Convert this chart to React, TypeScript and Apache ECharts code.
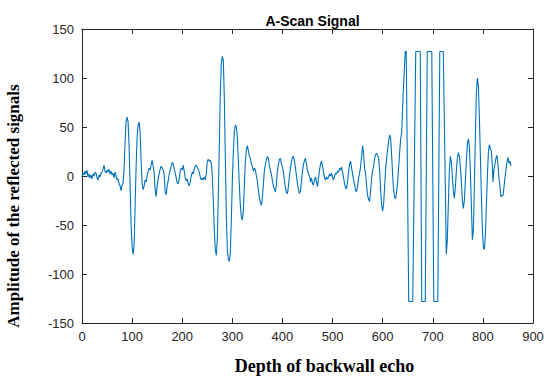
import React, { useEffect, useRef } from "react";
import * as echarts from "echarts";

// [depth, amplitude] pairs, segment by segment
const frontNoise: [number, number][] = [
  [0, -1], [2, 3], [4, 1], [6, 5], [8, 2], [10, 6], [12, -1], [14, 2], [16, -2], [18, 1],
  [20, -3], [22, 2], [24, 0], [26, 4], [28, 3], [30, -2], [32, -4], [34, 1], [36, -1], [38, 3],
  [40, 4], [42, 7], [44, 11], [46, 5], [48, 3], [50, 6], [52, 4], [54, 7], [56, 2], [58, 5],
  [60, 1], [62, 3], [64, -2], [66, 4], [68, 0], [70, -4], [72, -3], [74, -8], [76, -10], [78, -15],
  [80, -9], [82, -7],
];
const echoOne: [number, number][] = [
  [84, 8], [86, 35], [88, 56], [90, 60], [92, 55], [94, 30], [96, -10], [98, -50], [100, -72],
  [102, -80], [104, -70], [106, -30], [108, 10], [110, 40], [112, 52], [114, 55], [116, 45],
  [118, 15], [120, -8], [122, -14], [124, -10], [126, -4], [128, -6],
];
const midNoiseOne: [number, number][] = [
  [130, 0], [132, 5], [134, 8], [136, 6], [138, 12], [140, 16], [142, 10], [144, 3], [146, -15],
  [148, -21], [150, -10], [152, -3], [154, 2], [156, 7], [158, 10], [160, 8], [162, 6], [164, 2],
  [166, -17], [168, -19], [170, -10], [172, -5], [174, 2], [176, 6], [178, 10], [180, 14],
  [182, 12], [184, 7], [186, 3], [188, -2], [190, -7], [192, -8], [194, -3], [196, 5], [198, 8],
  [200, 6], [202, 11], [204, 5], [206, -2], [208, -5], [210, -3], [212, -8], [214, -10], [216, -6],
  [218, 0], [220, 4], [222, 2], [224, 7], [226, 10], [228, 11], [230, 9], [232, 7], [234, 4],
  [236, -1], [238, -4], [240, -2], [242, -4], [244, -1], [246, -4], [248, 2], [250, 15], [252, 17],
  [254, 15], [256, 16], [258, 13],
];
const echoTwo: [number, number][] = [
  [260, 0], [262, -25], [264, -55], [266, -75], [268, -81], [270, -65], [272, -20], [274, 30],
  [276, 85], [278, 115], [280, 122], [282, 118], [284, 80], [286, 20], [288, -40], [290, -75],
  [292, -85], [294, -87], [296, -78], [298, -45], [300, -5], [302, 25], [304, 45], [306, 52],
  [308, 50], [310, 40], [312, 15], [314, -10], [316, -30], [318, -42], [320, -45], [322, -35],
  [324, -10], [326, 15], [328, 27], [330, 31], [332, 26], [334, 20], [336, 18], [338, 12],
  [340, 10], [342, 5], [344, 8], [346, 6],
];
const midNoiseTwo: [number, number][] = [
  [348, 0], [350, -5], [352, -15], [354, -22], [356, -27], [358, -30], [360, -22], [362, -8],
  [364, 6], [366, 12], [368, 17], [370, 20], [372, 18], [374, 10], [376, 6], [378, 2], [380, -5],
  [382, -10], [384, -14], [386, -16], [388, -8], [390, 5], [392, 12], [394, 17], [396, 18],
  [398, 12], [400, 9], [402, 4], [404, -5], [406, -12], [408, -17], [410, -18], [412, -10],
  [414, 0], [416, 8], [418, 15], [420, 19], [422, 20], [424, 15], [426, 8], [428, 0], [430, -8],
  [432, -14], [434, -18], [436, -15], [438, -5], [440, 5], [442, 12], [444, 16], [446, 18],
  [448, 12], [450, 6], [452, 2], [454, 0], [456, -6], [458, -2], [460, -8], [462, -9], [464, -4],
  [466, -1], [468, -6], [470, -11], [472, -2], [474, 6], [476, 12], [478, 15], [480, 10],
  [482, 4], [484, -2], [486, -4], [488, -1], [490, -3], [492, -1], [494, 2], [496, 0], [498, 3],
  [500, -2], [502, -4], [504, 0], [506, 3], [508, 2], [510, 5], [512, 4], [514, 8], [516, 6],
  [518, 9], [520, 4], [522, -2], [524, -8], [526, -12], [528, -13], [530, -5], [532, 5],
  [534, 12], [536, 15], [538, 8], [540, 2], [542, -4], [544, -9], [546, -15], [548, -16],
  [550, -10], [552, -2], [554, 3],
];
const echoThree: [number, number][] = [
  [556, 10], [558, 20], [560, 31], [562, 22], [564, 8], [566, 2], [568, -10], [570, -20],
  [572, -24], [574, -26], [576, -15], [578, -2], [580, 6], [582, 10], [584, 18], [586, 22],
  [588, 23], [590, 21], [592, 18], [594, 5], [596, -15], [598, -30], [600, -36], [602, -28],
  [604, -10], [606, 8], [608, 18], [610, 28], [612, 36], [614, 42], [616, 38], [618, 20],
  [620, 0], [622, -15], [624, -22], [626, -23], [628, -16], [630, -5], [632, 10], [634, 25],
  [636, 38], [638, 45], [641, 85],
];
const saturatedEcho: [number, number][] = [
  [645, 127], [647, 127], [652, -128], [660, -128], [666, 127], [675, 127], [678, -128],
  [685, -128], [689, 127], [698, 127], [702, -128], [710, -128], [714, 127], [721, 127],
];
const backwallTail: [number, number][] = [
  [727, -80], [729, -65], [731, -30], [733, 5], [735, 20], [737, 15], [739, 0], [741, -15],
  [743, -23], [745, -12], [747, 5], [749, 18], [751, 24], [753, 20], [755, 10], [757, -5],
  [759, -25], [761, -33], [763, -25], [765, -5], [767, 15], [769, 32], [771, 38], [773, 30],
  [775, 5], [777, -30], [779, -65], [781, -55], [783, -10], [785, 40], [787, 85], [789, 100],
  [791, 92], [793, 60], [795, 20], [797, -20], [799, -55], [801, -73], [803, -75], [805, -60],
  [807, -30], [809, 0], [811, 25], [813, 32], [815, 28], [817, 25], [819, 10], [820, -6],
  [822, 6], [824, 12], [826, 18], [828, 21], [830, 12], [832, -2], [834, -10], [836, -21],
  [838, -20], [840, -20], [842, -12], [844, -2], [846, 6], [848, 14], [850, 19], [852, 13],
  [854, 15], [856, 10],
];

const chartTitle = "A-Scan Signal";
const xName = "Depth of backwall echo";
const yName = "Amplitude of the reflected signals";

export default function App() {
  const ref = useRef<HTMLDivElement>(null);
  useEffect(() => {
    if (!ref.current) return;
    const chart = echarts.init(ref.current, undefined, { renderer: "svg" });
    const data = [
      ...frontNoise, ...echoOne, ...midNoiseOne, ...echoTwo, ...midNoiseTwo,
      ...echoThree, ...saturatedEcho, ...backwallTail,
    ];
    const axisColor = "#262626";
    const lineStyle = { color: axisColor, width: 1 };
    const axisLine = { show: true, onZero: false, lineStyle };
    const tick = { show: true, inside: true, length: 5, lineStyle };
    chart.setOption({
      animation: false,
      backgroundColor: "#ffffff",
      title: {
        text: chartTitle,
        left: 307.5,
        textAlign: "center",
        top: 9,
        textStyle: { fontFamily: "Liberation Sans", fontSize: 14, fontWeight: "bold", color: "#000" },
      },
      grid: { left: 82, right: 17, top: 29, bottom: 57, containLabel: false, outerBoundsMode: "none" },
      xAxis: [
        {
          type: "value", min: 0, max: 900, interval: 100, position: "bottom",
          axisLine, axisTick: tick, splitLine: { show: false },
          axisLabel: { margin: 7, fontFamily: "Liberation Sans", fontSize: 13, color: axisColor },
          name: xName, nameLocation: "middle", nameGap: 34,
          nameTextStyle: {
            fontFamily: "Liberation Serif", fontSize: 18, fontWeight: "bold", color: "#000",
            padding: [0, 0, 0, 34],
          },
        },
        {
          type: "value", min: 0, max: 900, interval: 100, position: "top",
          axisLine, axisTick: tick, splitLine: { show: false },
          axisLabel: { show: false },
        },
      ],
      yAxis: [
        {
          type: "value", min: -150, max: 150, interval: 50, position: "left",
          axisLine, axisTick: tick, splitLine: { show: false },
          axisLabel: { margin: 8, fontFamily: "Liberation Sans", fontSize: 13, color: axisColor },
          name: yName, nameLocation: "middle", nameGap: 60, nameRotate: 90,
          nameTextStyle: {
            fontFamily: "Liberation Serif", fontSize: 17, fontWeight: "bold", color: "#000",
            padding: [0, 60, 0, 0],
          },
        },
        {
          type: "value", min: -150, max: 150, interval: 50, position: "right",
          axisLine, axisTick: tick, splitLine: { show: false },
          axisLabel: { show: false },
        },
      ],
      series: [
        {
          type: "line",
          data,
          xAxisIndex: 0,
          yAxisIndex: 0,
          showSymbol: false,
          symbol: "none",
          lineStyle: { color: "#0072BD", width: 1.1 },
        },
      ],
    });
    return () => chart.dispose();
  }, []);
  return (
    <div
      ref={ref}
      style={{ position: "fixed", left: 0, top: 0, width: 550, height: 380, background: "#fff" }}
    />
  );
}
